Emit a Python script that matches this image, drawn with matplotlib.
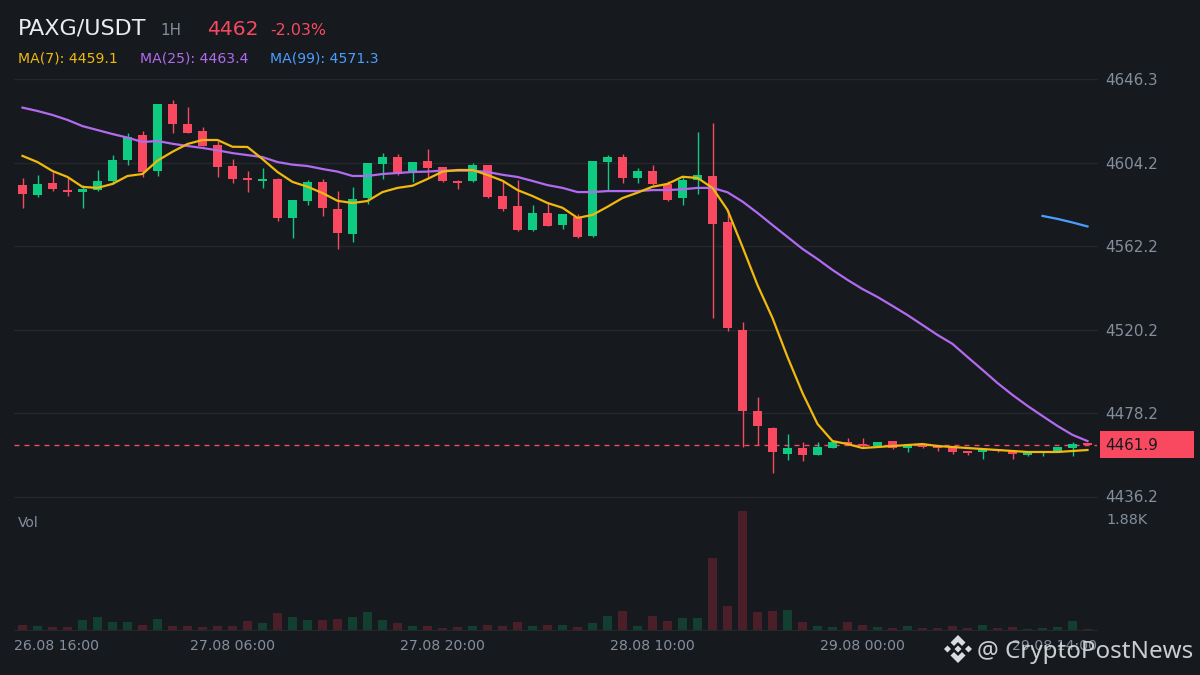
import matplotlib
matplotlib.use("Agg")
import matplotlib.pyplot as plt
from matplotlib.patches import Polygon, Rectangle
from matplotlib.transforms import Affine2D

# candle data, one entry per hour
opens = [4593, 4588, 4594, 4590.4, 4589.4, 4590.4, 4595, 4605.5, 4618.1, 4600, 4633.7, 4623.7,
         4620.1, 4613.1, 4602.5, 4596.5, 4595, 4596, 4576.4, 4584.9, 4594.5, 4580.9, 4568.3, 4586.4,
         4603.5, 4607, 4599, 4605, 4602, 4595, 4595, 4603, 4587.4, 4582.4, 4570.3, 4578.9,
         4572.8, 4576.9, 4567.3, 4604.5, 4607, 4596.5, 4600, 4593.5, 4586.4, 4595.5, 4597.5, 4574.3,
         4520, 4479.2, 4470.7, 4457.6, 4460.6, 4457.1, 4460.6, 4463.6, 4462.6, 4461.6, 4464.1, 4460.6,
         4462.1, 4461.6, 4461.6, 4459.1, 4458.6, 4460.1, 4459.1, 4457.1, 4458.1, 4458.6, 4460.6, 4463.1]
highs = [4596.5, 4598, 4599.5, 4596.5, 4593, 4600.5, 4608, 4619.1, 4620.1, 4633.7, 4635.7, 4632.2,
         4622.1, 4615.1, 4606, 4600, 4601.5, 4596.5, 4585.4, 4595.5, 4596, 4589.9, 4592, 4604,
         4609, 4608.6, 4604.5, 4611, 4602, 4595.5, 4604, 4603, 4595.5, 4595.5, 4582.9, 4583.9,
         4578.4, 4578.4, 4605, 4608, 4608.6, 4601.5, 4603, 4595, 4597, 4619.6, 4624.2, 4580.4,
         4524, 4486.3, 4471.2, 4467.7, 4463.6, 4463.6, 4463.6, 4465.6, 4465.6, 4463.6, 4464.1, 4462.1,
         4462.1, 4461.6, 4461.6, 4459.1, 4460.1, 4460.1, 4459.1, 4458.6, 4458.6, 4461.1, 4463.6, 4463.1]
lows = [4581.4, 4587, 4590, 4587.4, 4581.4, 4590, 4593.5, 4603, 4597, 4597.5, 4619.1, 4619.1,
        4612.6, 4597, 4594, 4589.4, 4591.5, 4574.8, 4566.3, 4582.9, 4577.4, 4560.8, 4564.3, 4583.4,
        4596, 4598, 4594.5, 4597, 4594.5, 4591, 4594.5, 4586.4, 4579.9, 4569.8, 4569.8, 4572.3,
        4570.8, 4566.3, 4566.8, 4590.4, 4594, 4594, 4593, 4584.9, 4582.9, 4588.4, 4526, 4519.5,
        4461.1, 4462.1, 4448, 4454.6, 4454.1, 4457.1, 4460.6, 4462.1, 4461.1, 4461.6, 4460.1, 4458.6,
        4460.6, 4459.1, 4457.6, 4457.1, 4455, 4458.6, 4455.1, 4456.6, 4456.6, 4458.6, 4456.6, 4462.1]
closes = [4588.4, 4593.5, 4591, 4589.4, 4591, 4595, 4605.5, 4617.1, 4599.5, 4633.7, 4623.7, 4619.1,
          4612.6, 4602, 4596, 4595.5, 4596, 4576.4, 4585.4, 4594.5, 4581.4, 4568.8, 4585.9, 4604,
          4607, 4598.5, 4604.5, 4601.5, 4595, 4594, 4603, 4587, 4580.9, 4570.3, 4578.9, 4572.3,
          4578.4, 4566.8, 4605, 4607, 4596.5, 4600, 4593.5, 4585.4, 4595.5, 4598, 4573.3, 4521,
          4479.2, 4471.7, 4458.6, 4460.6, 4457.1, 4461.1, 4463.6, 4462.6, 4461.6, 4463.6, 4460.6, 4462.1,
          4461.1, 4460.6, 4458.6, 4458.1, 4460.1, 4459.1, 4457.6, 4458.6, 4458.6, 4461.1, 4462.6, 4462.1]
volumes = [85, 68, 51, 51, 154, 205, 120, 120, 85, 171, 68, 68,
           51, 68, 68, 137, 103, 273, 205, 154, 154, 171, 205, 291,
           154, 103, 68, 68, 34, 51, 68, 85, 68, 120, 68, 85,
           85, 51, 103, 222, 308, 68, 222, 137, 188, 188, 1213, 393,
           2017, 291, 308, 325, 120, 68, 51, 120, 85, 51, 34, 68,
           34, 34, 68, 34, 85, 34, 51, 17, 34, 51, 137, 17]

ma7 = [4607.6, 4604.5, 4600, 4597, 4592, 4591.5, 4593.5, 4597.5, 4598.5, 4605.2, 4609.7, 4613.6,
       4615.6, 4615.6, 4612.2, 4612.1, 4606, 4599.5, 4594.5, 4592.1, 4588.9, 4585, 4583.9, 4584.9,
       4589.4, 4591.5, 4592.6, 4596, 4599.7, 4600.5, 4600.5, 4598, 4595.1, 4590.4, 4587.4, 4583.9,
       4581.5, 4576.4, 4577.9, 4582, 4586.4, 4589.1, 4592.1, 4593.5, 4597.1, 4596.5, 4591.5, 4580.4,
       4561.8, 4542.6, 4526, 4506.4, 4488.3, 4472.7, 4464.1, 4462.6, 4460.6, 4461.1, 4461.6, 4462.1,
       4462.6, 4461.6, 4461.1, 4460.6, 4460.1, 4459.6, 4459.1, 4458.6, 4458.6, 4458.6, 4459.1, 4459.6]
ma25 = [4631.9, 4630.2, 4628.2, 4625.7, 4622.6, 4620.6, 4618.6, 4616.8, 4614.6, 4615.1, 4613.7, 4612.6,
        4611.6, 4610.4, 4609, 4608, 4607, 4604.5, 4603.2, 4602.5, 4601, 4599.7, 4597.5, 4597.5,
        4598.5, 4599, 4599.5, 4599.7, 4600.2, 4600.2, 4600.2, 4599.5, 4598.1, 4597, 4595, 4592.9,
        4591.5, 4589.4, 4589.4, 4589.9, 4589.9, 4589.9, 4590.4, 4590.4, 4590.8, 4591.5, 4591.5, 4589.3,
        4584.6, 4578.9, 4572.8, 4566.8, 4560.8, 4555.7, 4550.2, 4545.2, 4540.6, 4536.6, 4532.1, 4527.5,
        4522.5, 4517.5, 4513, 4506.4, 4499.9, 4493.3, 4487.3, 4481.8, 4476.7, 4471.7, 4467.2, 4464.1]
# only the last hours of MA(99) are inside the price range
ma99_hours = [68, 69, 70, 71]
ma99 = [4577.4, 4575.9, 4574.1, 4572.1]

price_ticks = [4646.3, 4604.2, 4562.2, 4520.2, 4478.2, 4436.2]
date_ticks = [14, 28, 42, 56]
date_labels = ["27.08 06:00", "27.08 20:00", "28.08 10:00", "29.08 00:00"]
first_date = "26.08 16:00"
last_date = "29.08 14:00"
last_price = 4461.9

BG = "#161A1E"
GREEN = "#0ECB81"
RED = "#F84960"
VOL_GREEN = "#123F2F"
VOL_RED = "#4A1F28"
GRID = "#24282D"
GRAY = "#848E9C"

W, H = 1200, 675
fig = plt.figure(figsize=(W / 100, H / 100), dpi=100, facecolor=BG)

# helper: figure transform with pixels measured from top left
px = Affine2D().scale(1 / W, -1 / H).translate(0, 1) + fig.transFigure


def axes_px(left, top, right, bottom):
    return fig.add_axes([left / W, 1 - bottom / H, (right - left) / W, (bottom - top) / H], facecolor="none")


hours = list(range(len(opens)))
xmin, xmax = -0.567, 71.633

# price panel
ax = axes_px(14, 79, 1097, 496.5)
ax.set_xlim(xmin, xmax)
ax.set_ylim(4436.2, 4646.3)
for s in ax.spines.values():
    s.set_visible(False)
ax.set_xticks([])
ax.yaxis.tick_right()
ax.set_yticks(price_ticks)
ax.set_yticklabels([f"{p:.1f}" for p in price_ticks], fontsize=10.9, color=GRAY)
ax.tick_params(axis="y", length=0, pad=6.2)
ax.grid(axis="y", color=GRID, lw=1)
ax.set_axisbelow(True)
for line in ax.get_ygridlines():
    line.set_clip_on(False)

# 5px on, 5px off
ax.axhline(last_price, color=RED, lw=1.0, dashes=(3.6, 3.6), zorder=1)

colors = [GREEN if c >= o else RED for o, c in zip(opens, closes)]
ax.vlines(hours, lows, highs, colors=colors, lw=1.0, zorder=2)
ax.bar(hours, [abs(c - o) for o, c in zip(opens, closes)], bottom=[min(o, c) for o, c in zip(opens, closes)],
       width=0.6, color=colors, zorder=3)

ax.plot(hours, ma25, color="#B26AF0", lw=1.6, zorder=4)
ax.plot(hours, ma7, color="#F0B90B", lw=1.6, zorder=5)
ax.plot(ma99_hours, ma99, color="#4A9EFF", lw=1.6, zorder=5)

# volume panel
vx = axes_px(14, 511, 1097, 629.5)
vx.set_xlim(xmin, xmax)
vx.set_ylim(0, 2017)
for name, s in vx.spines.items():
    s.set_visible(name == "bottom")
    s.set_color(GRID)
vol_colors = [VOL_GREEN if c >= o else VOL_RED for o, c in zip(opens, closes)]
vx.bar(hours, volumes, width=0.6, color=vol_colors)
vx.set_yticks([])
vx.set_xticks([xmin] + date_ticks + [xmax])
vx.set_xticklabels([first_date] + date_labels + [last_date], fontsize=10.2, color=GRAY)
vx.tick_params(axis="x", length=0, pad=7)
vx.get_xticklabels()[0].set_ha("left")
vx.get_xticklabels()[-1].set_ha("right")
fig.text(1106, 520.5, "1.88K", transform=px, fontsize=10.4, color=GRAY, va="center")

# current price flag
fig.add_artist(Rectangle((1100, 431), 94, 26.5, transform=px, facecolor=RED, edgecolor="none"))
fig.text(1105.5, 445, f"{last_price:.1f}", transform=px, fontsize=10.9, color=BG, va="center")

# header
fig.text(18, 34.5, "PAXG/USDT", transform=px, fontsize=16, color="#EAECEF")
fig.text(160, 35, "1H", transform=px, fontsize=10.9, color=GRAY)
fig.text(207, 35, "4462", transform=px, fontsize=14.6, color=RED)
fig.text(270, 35, "-2.03%", transform=px, fontsize=11.4, color=RED)
fig.text(18, 62, "MA(7): 4459.1", transform=px, fontsize=10.1, color="#F0B90B")
fig.text(140, 62, "MA(25): 4463.4", transform=px, fontsize=10.1, color="#B26AF0")
fig.text(270, 62, "MA(99): 4571.3", transform=px, fontsize=10.1, color="#4A9EFF")
fig.text(18, 527, "Vol", transform=px, fontsize=10, color=GRAY)

# watermark with the diamond logo
WM = "#D9DCE0"
cx, cy = 958, 649
shapes = [
    [(0, -14), (7.5, -6.5), (4, -3), (0, -7), (-4, -3), (-7.5, -6.5)],
    [(0, 14), (7.5, 6.5), (4, 3), (0, 7), (-4, 3), (-7.5, 6.5)],
    [(0, -3.5), (3.5, 0), (0, 3.5), (-3.5, 0)],
    [(-10.5, -3.5), (-7, 0), (-10.5, 3.5), (-14, 0)],
    [(10.5, -3.5), (14, 0), (10.5, 3.5), (7, 0)],
]
for pts in shapes:
    fig.add_artist(Polygon([(cx + a, cy + b) for a, b in pts], transform=px, facecolor=WM, edgecolor="none"))
fig.text(977, 657.5, "@ CryptoPostNews", transform=px, fontsize=17.4, family="Noto Sans", color=WM, alpha=0.92)

fig.savefig("out.png", dpi=100, facecolor=BG)
